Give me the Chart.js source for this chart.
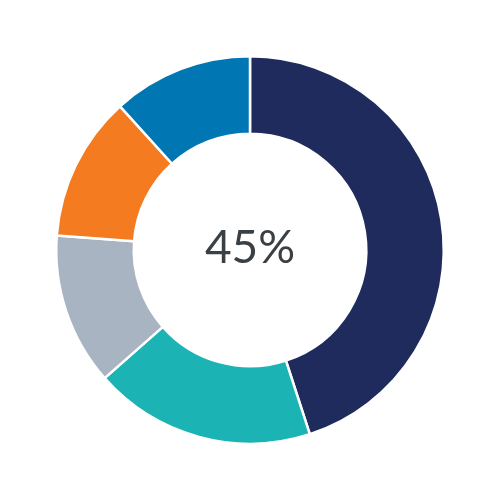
<!DOCTYPE html>
<html>
<head>
<meta charset="utf-8">
<script src="https://cdn.jsdelivr.net/npm/chart.js@4"></script>
<style>
  html, body { margin: 0; padding: 0; background: #fff; }
  #wrap { width: 500px; height: 500px; }
</style>
</head>
<body>
<div id="wrap"><canvas id="donut"></canvas></div>
<script>
const categorias = ['A', 'B', 'C', 'D', 'E'];
const valores = [45, 18.5, 12.7, 12.1, 11.7];
const cores = ['#1e2b5c', '#1bb3b3', '#a9b4c2', '#f47b20', '#0077b3'];
const textoCentro = '45%';

const centerText = {
  id: 'centerText',
  afterDraw(chart) {
    const meta = chart.getDatasetMeta(0);
    const arc = meta.data[0];
    if (!arc) return;
    const ctx = chart.ctx;
    ctx.save();
    ctx.fillStyle = '#3b4045';
    ctx.font = '46px Lato';
    ctx.textAlign = 'center';
    ctx.textBaseline = 'middle';
    ctx.fillText(textoCentro, arc.x, arc.y - 2);
    ctx.restore();
  },
};

new Chart(document.getElementById('donut'), {
  type: 'doughnut',
  data: {
    labels: categorias,
    datasets: [
      {
        data: valores,
        backgroundColor: cores,
        borderColor: '#ffffff',
        borderWidth: 2.5,
        hoverOffset: 0,
      },
    ],
  },
  options: {
    responsive: true,
    maintainAspectRatio: false,
    animation: false,
    cutout: '60%',
    layout: { padding: 55 },
    plugins: {
      legend: { display: false },
      tooltip: { enabled: false },
    },
  },
  plugins: [centerText],
});
</script>
</body>
</html>
